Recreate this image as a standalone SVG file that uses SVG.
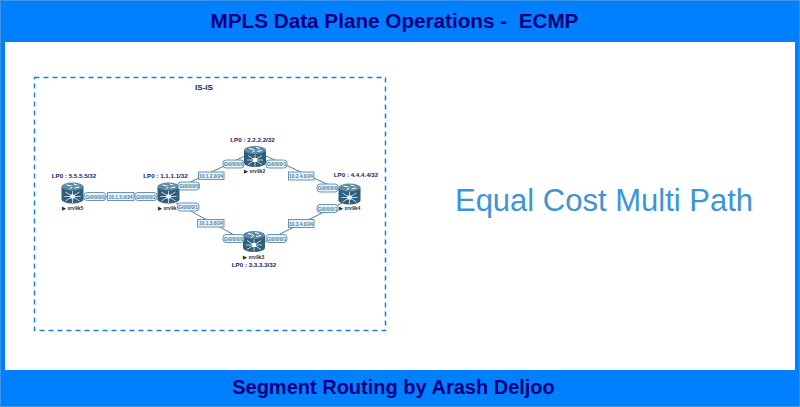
<svg xmlns="http://www.w3.org/2000/svg" width="800" height="407" viewBox="0 0 800 407">
<defs>
<style>
.t{font-family:"Liberation Sans",Arial,sans-serif}
.band{fill:#007fff}
.title{font-weight:bold;fill:#000080;text-anchor:middle}
.lp{font-size:6.2px;font-weight:bold;fill:#1a1a70;text-anchor:middle}
.nm{font-size:5px;fill:#333;font-weight:bold}
.pill{fill:#e8f3fa;stroke:#5a8cab;stroke-width:.9}
.pt{font-size:4.8px;fill:#4d7f9e;text-anchor:middle;font-weight:bold}
.link{stroke:#4d7f9e;stroke-width:1;fill:none}
</style>
<g id="rt">
<path d="M-11-6.500V6.500a11 4 0 0 0 22 0V-6.500Z" fill="#2f5f7c"/>
<ellipse cx="0" cy="-6.500" rx="11" ry="4" fill="#5d8aa5"/>
<path d="M-6-8l5 1M2-5l5-1M-3-4l3-2M1-9l4 1" stroke="#fff" stroke-width="1" fill="none"/>
<path d="M-8 3.500H8M0-2V10M-7-1L7 8M7-1L-7 8" stroke="#e8f0f5" stroke-width=".8"/>
<rect x="-2" y="1.500" width="4" height="4" fill="#fff"/>
</g>
</defs>
<rect width="800" height="407" fill="#fff"/>
<rect x="0" y="0" width="800" height="42" class="band"/>
<rect x="0" y="370" width="800" height="37" class="band"/>
<rect x="0" y="42" width="5" height="328" class="band"/>
<rect x="795" y="42" width="5" height="328" class="band"/>
<rect x=".5" y=".5" width="799" height="406" fill="none" stroke="#3d94e6"/>
<text class="t title" x="394.500" y="28" font-size="20.700" xml:space="preserve">MPLS Data Plane Operations -  ECMP</text>
<text class="t title" x="393.500" y="394" font-size="20">Segment Routing by Arash Deljoo</text>
<rect x="34.500" y="77.500" width="351" height="253" fill="none" stroke="#1a7fe0" stroke-width="1.500" stroke-dasharray="5 4"/>
<text class="t" x="204" y="90" font-size="8" font-weight="bold" fill="#1a1a70" text-anchor="middle">IS-IS</text>
<text class="t" x="604" y="211" font-size="31" fill="#3d94d6" text-anchor="middle">Equal Cost Multi Path</text>
<g id="connectors">
<path class="link" d="M80 196.500H160"/>
<path class="link" d="M176 189L247 155"/>
<path class="link" d="M176 203L247 242"/>
<path class="link" d="M264 155L342 191"/>
<path class="link" d="M264 242L342 203"/>
</g>
<g id="srv6-5"><use href="#rt" x="72.500" y="193"/><text class="t lp" x="74" y="178">LP0 : 5.5.5.5/32</text><text class="t nm" x="62" y="209.500">▶ xrv9k5</text></g>
<g id="srv6-1"><use href="#rt" x="168.500" y="193"/><text class="t lp" x="165.500" y="178">LP0 : 1.1.1.1/32</text><text class="t nm" x="158" y="209.500">▶ xrv9k</text></g>
<g id="srv6-2"><use href="#rt" x="255" y="156.500"/><text class="t lp" x="252.500" y="142">LP0 : 2.2.2.2/32</text><text class="t nm" x="244" y="173">▶ xrv9k2</text></g>
<g id="srv6-3"><use href="#rt" x="254" y="241.500"/><text class="t lp" x="254" y="267">LP0 : 3.3.3.3/32</text><text class="t nm" x="243" y="259">▶ xrv9k3</text></g>
<g id="srv6-4"><use href="#rt" x="349.500" y="194"/><text class="t lp" x="356" y="177">LP0 : 4.4.4.4/32</text><text class="t nm" x="339" y="210">▶ xrv9k4</text></g>
<g id="labels">
<rect class="pill" x="84" y="192.500" width="22" height="8" rx="3"/><text class="t pt" x="95" y="198.500">Gi0/0/0/0</text>
<rect class="pill" x="107.500" y="192.500" width="26.500" height="8"/><text class="t pt" x="120.500" y="198.500">10.1.5.0/24</text>
<rect class="pill" x="135" y="192.500" width="22" height="8" rx="3"/><text class="t pt" x="146" y="198.500">Gi0/0/0/2</text>
<rect class="pill" x="178" y="182" width="21.500" height="8" rx="3"/><text class="t pt" x="189" y="188">Gi0/0/0/0</text>
<rect class="pill" x="177.500" y="203" width="21.500" height="8" rx="3"/><text class="t pt" x="188" y="209">Gi0/0/0/1</text>
<rect class="pill" x="198.500" y="172" width="25.500" height="7.500"/><text class="t pt" x="211" y="177.800">10.1.2.0/24</text>
<rect class="pill" x="197.500" y="219.500" width="26.500" height="7.500"/><text class="t pt" x="211" y="225.300">10.1.3.0/24</text>
<rect class="pill" x="223" y="160" width="21" height="8" rx="3"/><text class="t pt" x="233.500" y="166">Gi0/0/0/0</text>
<rect class="pill" x="266" y="160" width="21" height="8" rx="3"/><text class="t pt" x="276.500" y="166">Gi0/0/0/1</text>
<rect class="pill" x="288.500" y="172" width="25.500" height="8"/><text class="t pt" x="301" y="178">10.2.4.0/24</text>
<rect class="pill" x="317" y="184" width="21" height="8" rx="3"/><text class="t pt" x="327.500" y="190">Gi0/0/0/0</text>
<rect class="pill" x="223" y="234.500" width="21" height="8" rx="3"/><text class="t pt" x="233.500" y="240.500">Gi0/0/0/0</text>
<rect class="pill" x="266" y="234.500" width="21" height="8" rx="3"/><text class="t pt" x="276.500" y="240.500">Gi0/0/0/1</text>
<rect class="pill" x="288.500" y="219.500" width="25.500" height="8"/><text class="t pt" x="301" y="225.500">10.3.4.0/24</text>
<rect class="pill" x="317" y="204.500" width="21" height="8" rx="3"/><text class="t pt" x="327.500" y="210.500">Gi0/0/0/1</text>
</g>
</svg>
